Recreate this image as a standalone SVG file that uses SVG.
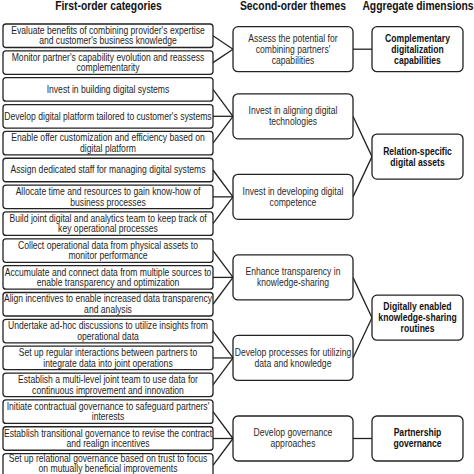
<svg xmlns="http://www.w3.org/2000/svg" width="474" height="474" viewBox="0 0 474 474">
<style>
.bg{fill:#fff}
.lb{fill:#fff;stroke:#222;stroke-width:1.3}
.mb{fill:#fff;stroke:#222;stroke-width:1.3}
.t{font-family:"Liberation Sans",Arial,sans-serif;font-size:10px;fill:#1e1e1e;text-anchor:middle}
.tm{font-family:"Liberation Sans",Arial,sans-serif;font-size:10px;fill:#2a2a2a;text-anchor:middle}
.tb{font-family:"Liberation Sans",Arial,sans-serif;font-size:10px;font-weight:bold;fill:#111;text-anchor:middle}
.h{font-family:"Liberation Sans",Arial,sans-serif;font-size:12px;font-weight:bold;fill:#111;text-anchor:middle}
.c{stroke:#222;stroke-width:1.3;fill:none}
</style>
<rect class="bg" x="0" y="0" width="474" height="474"/>
<g id="headers">
<text class="h" transform="scale(0.86 1)" x="126.16" y="9.5">First-order categories</text>
<text class="h" transform="scale(0.86 1)" x="340.7" y="9.5">Second-order themes</text>
<text class="h" transform="scale(0.86 1)" x="486.05" y="9.5">Aggregate dimensions</text>
</g>
<g id="connectors">
<line class="c" x1="213" y1="35.75" x2="233" y2="49.2"/>
<line class="c" x1="213" y1="62.6" x2="233" y2="49.2"/>
<line class="c" x1="213" y1="89.45" x2="233" y2="116.3"/>
<line class="c" x1="213" y1="116.3" x2="233" y2="116.3"/>
<line class="c" x1="213" y1="143.15" x2="233" y2="116.3"/>
<line class="c" x1="213" y1="170" x2="233" y2="196.85"/>
<line class="c" x1="213" y1="196.85" x2="233" y2="196.85"/>
<line class="c" x1="213" y1="223.7" x2="233" y2="196.85"/>
<line class="c" x1="213" y1="250.55" x2="233" y2="277.4"/>
<line class="c" x1="213" y1="277.4" x2="233" y2="277.4"/>
<line class="c" x1="213" y1="304.25" x2="233" y2="277.4"/>
<line class="c" x1="213" y1="331.1" x2="233" y2="357.95"/>
<line class="c" x1="213" y1="357.95" x2="233" y2="357.95"/>
<line class="c" x1="213" y1="384.8" x2="233" y2="357.95"/>
<line class="c" x1="213" y1="411.65" x2="233" y2="438.5"/>
<line class="c" x1="213" y1="438.5" x2="233" y2="438.5"/>
<line class="c" x1="213" y1="465.35" x2="233" y2="438.5"/>
<line class="c" x1="353" y1="49.2" x2="372" y2="49.2"/>
<line class="c" x1="353" y1="116.3" x2="372" y2="156.6"/>
<line class="c" x1="353" y1="196.85" x2="372" y2="156.6"/>
<line class="c" x1="353" y1="277.4" x2="372" y2="317.7"/>
<line class="c" x1="353" y1="357.95" x2="372" y2="317.7"/>
<line class="c" x1="353" y1="438.5" x2="372" y2="438.5"/>
</g>
<g id="f1"><rect class="lb" x="3" y="24" width="210" height="23.5" rx="3"/>
<text class="t" transform="scale(0.86 1)" x="125.58" y="34">Evaluate benefits of combining provider's expertise</text>
<text class="t" transform="scale(0.86 1)" x="125.58" y="44.5">and customer's business knowledge</text></g>
<g id="f2"><rect class="lb" x="3" y="50.85" width="210" height="23.5" rx="3"/>
<text class="t" transform="scale(0.86 1)" x="125.58" y="60.85">Monitor partner's capability evolution and reassess</text>
<text class="t" transform="scale(0.86 1)" x="125.58" y="71.35">complementarity</text></g>
<g id="f3"><rect class="lb" x="3" y="77.7" width="210" height="23.5" rx="3"/>
<text class="t" transform="scale(0.86 1)" x="125.58" y="92.95">Invest in building digital systems</text></g>
<g id="f4"><rect class="lb" x="3" y="104.55" width="210" height="23.5" rx="3"/>
<text class="t" transform="scale(0.86 1)" x="125.58" y="119.8">Develop digital platform tailored to customer's systems</text></g>
<g id="f5"><rect class="lb" x="3" y="131.4" width="210" height="23.5" rx="3"/>
<text class="t" transform="scale(0.86 1)" x="125.58" y="141.4">Enable offer customization and efficiency based on</text>
<text class="t" transform="scale(0.86 1)" x="125.58" y="151.9">digital platform</text></g>
<g id="f6"><rect class="lb" x="3" y="158.25" width="210" height="23.5" rx="3"/>
<text class="t" transform="scale(0.86 1)" x="125.58" y="173.5">Assign dedicated staff for managing digital systems</text></g>
<g id="f7"><rect class="lb" x="3" y="185.1" width="210" height="23.5" rx="3"/>
<text class="t" transform="scale(0.86 1)" x="125.58" y="195.1">Allocate time and resources to gain know-how of</text>
<text class="t" transform="scale(0.86 1)" x="125.58" y="205.6">business processes</text></g>
<g id="f8"><rect class="lb" x="3" y="211.95" width="210" height="23.5" rx="3"/>
<text class="t" transform="scale(0.86 1)" x="125.58" y="221.95">Build joint digital and analytics team to keep track of</text>
<text class="t" transform="scale(0.86 1)" x="125.58" y="232.45">key operational processes</text></g>
<g id="f9"><rect class="lb" x="3" y="238.8" width="210" height="23.5" rx="3"/>
<text class="t" transform="scale(0.86 1)" x="125.58" y="248.8">Collect operational data from physical assets to</text>
<text class="t" transform="scale(0.86 1)" x="125.58" y="259.3">monitor performance</text></g>
<g id="f10"><rect class="lb" x="3" y="265.65" width="210" height="23.5" rx="3"/>
<text class="t" transform="scale(0.86 1)" x="125.58" y="275.65">Accumulate and connect data from multiple sources to</text>
<text class="t" transform="scale(0.86 1)" x="125.58" y="286.15">enable transparency and optimization</text></g>
<g id="f11"><rect class="lb" x="3" y="292.5" width="210" height="23.5" rx="3"/>
<text class="t" transform="scale(0.86 1)" x="125.58" y="302.5">Align incentives to enable increased data transparency</text>
<text class="t" transform="scale(0.86 1)" x="125.58" y="313">and analysis</text></g>
<g id="f12"><rect class="lb" x="3" y="319.35" width="210" height="23.5" rx="3"/>
<text class="t" transform="scale(0.86 1)" x="125.58" y="329.35">Undertake ad-hoc discussions to utilize insights from</text>
<text class="t" transform="scale(0.86 1)" x="125.58" y="339.85">operational data</text></g>
<g id="f13"><rect class="lb" x="3" y="346.2" width="210" height="23.5" rx="3"/>
<text class="t" transform="scale(0.86 1)" x="125.58" y="356.2">Set up regular interactions between partners to</text>
<text class="t" transform="scale(0.86 1)" x="125.58" y="366.7">integrate data into joint operations</text></g>
<g id="f14"><rect class="lb" x="3" y="373.05" width="210" height="23.5" rx="3"/>
<text class="t" transform="scale(0.86 1)" x="125.58" y="383.05">Establish a multi-level joint team to use data for</text>
<text class="t" transform="scale(0.86 1)" x="125.58" y="393.55">continuous improvement and innovation</text></g>
<g id="f15"><rect class="lb" x="3" y="399.9" width="210" height="23.5" rx="3"/>
<text class="t" transform="scale(0.86 1)" x="125.58" y="409.9">Initiate contractual governance to safeguard partners'</text>
<text class="t" transform="scale(0.86 1)" x="125.58" y="420.4">interests</text></g>
<g id="f16"><rect class="lb" x="3" y="426.75" width="210" height="23.5" rx="3"/>
<text class="t" transform="scale(0.86 1)" x="125.58" y="436.75">Establish transitional governance to revise the contract</text>
<text class="t" transform="scale(0.86 1)" x="125.58" y="447.25">and realign incentives</text></g>
<g id="f17"><rect class="lb" x="3" y="453.6" width="210" height="23.5" rx="3"/>
<text class="t" transform="scale(0.86 1)" x="125.58" y="462.4">Set up relational governance based on trust to focus</text>
<text class="t" transform="scale(0.86 1)" x="125.58" y="471.6">on mutually beneficial improvements</text></g>
<g id="s1"><rect class="mb" x="233" y="26.7" width="120" height="45" rx="5"/>
<text class="tm" transform="scale(0.86 1)" x="340.7" y="41.7">Assess the potential for</text>
<text class="tm" transform="scale(0.86 1)" x="340.7" y="52.7">combining partners'</text>
<text class="tm" transform="scale(0.86 1)" x="340.7" y="63.7">capabilities</text></g>
<g id="s2"><rect class="mb" x="233" y="93.8" width="120" height="45" rx="5"/>
<text class="tm" transform="scale(0.86 1)" x="340.7" y="114.3">Invest in aligning digital</text>
<text class="tm" transform="scale(0.86 1)" x="340.7" y="125.3">technologies</text></g>
<g id="s3"><rect class="mb" x="233" y="174.35" width="120" height="45" rx="5"/>
<text class="tm" transform="scale(0.86 1)" x="340.7" y="194.85">Invest in developing digital</text>
<text class="tm" transform="scale(0.86 1)" x="340.7" y="205.85">competence</text></g>
<g id="s4"><rect class="mb" x="233" y="254.9" width="120" height="45" rx="5"/>
<text class="tm" transform="scale(0.86 1)" x="340.7" y="275.4">Enhance transparency in</text>
<text class="tm" transform="scale(0.86 1)" x="340.7" y="286.4">knowledge-sharing</text></g>
<g id="s5"><rect class="mb" x="233" y="335.45" width="120" height="45" rx="5"/>
<text class="tm" transform="scale(0.86 1)" x="340.7" y="355.95">Develop processes for utilizing</text>
<text class="tm" transform="scale(0.86 1)" x="340.7" y="366.95">data and knowledge</text></g>
<g id="s6"><rect class="mb" x="233" y="416" width="120" height="45" rx="5"/>
<text class="tm" transform="scale(0.86 1)" x="340.7" y="436.5">Develop governance</text>
<text class="tm" transform="scale(0.86 1)" x="340.7" y="447.5">approaches</text></g>
<g id="a1"><rect class="mb" x="372" y="26.7" width="91" height="45" rx="5"/>
<text class="tb" transform="scale(0.86 1)" x="485.47" y="41.7">Complementary</text>
<text class="tb" transform="scale(0.86 1)" x="485.47" y="52.7">digitalization</text>
<text class="tb" transform="scale(0.86 1)" x="485.47" y="63.7">capabilities</text></g>
<g id="a2"><rect class="mb" x="372" y="134.1" width="91" height="45" rx="5"/>
<text class="tb" transform="scale(0.86 1)" x="485.47" y="154.6">Relation-specific</text>
<text class="tb" transform="scale(0.86 1)" x="485.47" y="165.6">digital assets</text></g>
<g id="a3"><rect class="mb" x="372" y="295.2" width="91" height="45" rx="5"/>
<text class="tb" transform="scale(0.86 1)" x="485.47" y="310.2">Digitally enabled</text>
<text class="tb" transform="scale(0.86 1)" x="485.47" y="321.2">knowledge-sharing</text>
<text class="tb" transform="scale(0.86 1)" x="485.47" y="332.2">routines</text></g>
<g id="a4"><rect class="mb" x="372" y="416" width="91" height="45" rx="5"/>
<text class="tb" transform="scale(0.86 1)" x="485.47" y="436.5">Partnership</text>
<text class="tb" transform="scale(0.86 1)" x="485.47" y="447.5">governance</text></g>
</svg>
